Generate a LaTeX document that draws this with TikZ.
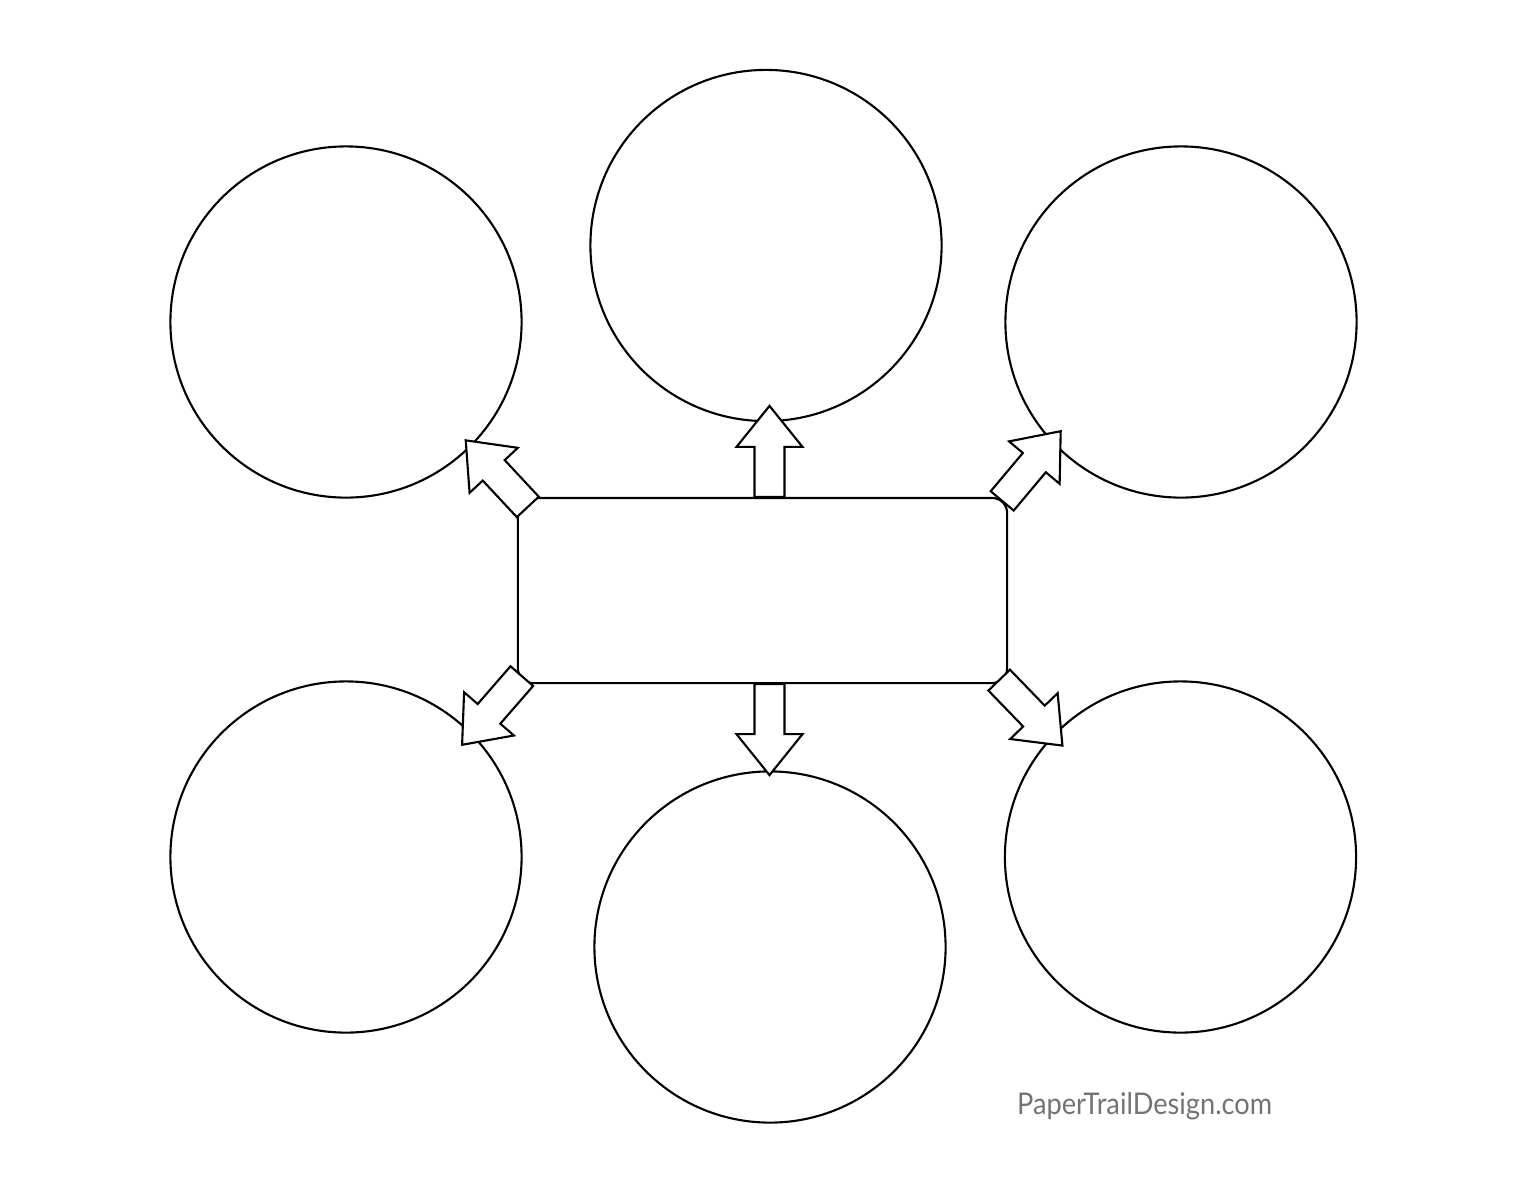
\documentclass[tikz,border=0pt]{standalone}
\usepackage{fontspec}
\usepackage{tikz}
\usetikzlibrary{positioning,calc}
\newfontfamily\sitefont{Lato}

\begin{document}
\begin{tikzpicture}[x=0.01cm, y=-0.01cm, line width=0.6pt,
        bubble/.style={draw, circle, minimum size=3.51cm, inner sep=0pt},
        topicbox/.style={draw, rounded corners=0.15cm, minimum width=4.89cm, minimum height=1.85cm, inner sep=0pt},
        bigarrow/.pic={\draw[fill=white, line join=miter] (0,-15) -- (50,-15) -- (50,-33) -- (91,0) -- (50,33) -- (50,15) -- (0,15) -- cycle;}]
        \useasboundingbox (0,0) rectangle (1536,1187);

        % Circles, top row
        \node [bubble] (tl) at (346,322) {};
        \node [bubble] (tc) at (766,245.5) {};
        \node [bubble] (tr) at (1181,322) {};

        % Circles, bottom row
        \node [bubble] (bl) at (346,857) {};
        \node [bubble] (bc) at (770,947) {};
        \node [bubble] (br) at (1180.5,857) {};

        % Main box
        \node [topicbox] (topic) at (762.5,590.5) {};

        % Arrows from the box
        \pic [rotate=133] at ($(topic.north west)+(11,10)$) {bigarrow}; % to tl
        \pic [rotate=90] at ($(topic.north)+(7,0)$) {bigarrow}; % to tc
        \pic [rotate=50] at ($(topic.north east)+(-6,4)$) {bigarrow}; % to tr
        \pic [rotate=-131] at ($(topic.south west)+(5,-8)$) {bigarrow}; % to bl
        \pic [rotate=-90] at ($(topic.south)+(7,0)$) {bigarrow}; % to bc
        \pic [rotate=-46] at ($(topic.south east)+(-9,-4)$) {bigarrow}; % to br

        \node [anchor=base west, inner sep=0pt, text=black!55] (site) at (1016,1114) {\resizebox{2.55cm}{0.22cm}{\sitefont PaperTrailDesign.com}};
    \end{tikzpicture}
\end{document}
